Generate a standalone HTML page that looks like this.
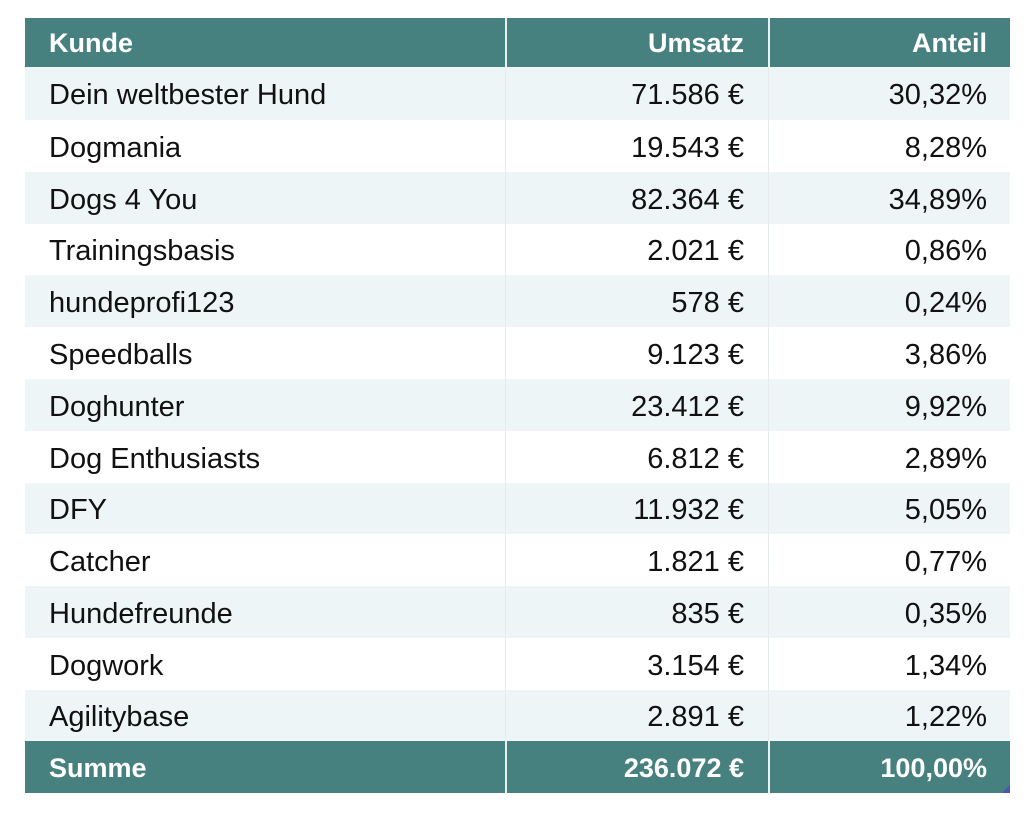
<!DOCTYPE html>
<html>
<head>
<meta charset="utf-8">
<style>
  html,body{margin:0;padding:0;background:#fff;}
  body{width:1030px;height:819px;position:relative;overflow:hidden;font-family:"Liberation Sans",Arial,sans-serif;}
  .row{position:absolute;left:25px;width:985px;}
  .c{position:absolute;top:0;height:100%;display:flex;align-items:center;box-sizing:border-box;white-space:nowrap;padding-top:4px;}
  .c1{left:0;width:480px;padding-left:24px;}
  .c2{left:482px;width:261px;justify-content:flex-end;padding-right:24px;}
  .c3{left:745px;width:240px;justify-content:flex-end;padding-right:23px;}
  .body .c{font-size:29px;color:#111;}
  .head{background:#47817f;}
  .head .c{font-size:27px;font-weight:bold;color:#fff;padding-top:2px;}
  .alt{background:#eef5f6;}
  .wht{background:#fff;}
  .vl{position:absolute;top:0;height:100%;width:1px;background:#e6eced;}
  .hv{position:absolute;top:0;height:100%;width:2px;background:#e9f2f1;}
</style>
</head>
<body>

<div class="row head" style="top:18px;height:49px;">
  <div class="hv" style="left:480px;"></div>
  <div class="hv" style="left:743px;"></div>
  <div class="c c1">Kunde</div>
  <div class="c c2">Umsatz</div>
  <div class="c c3">Anteil</div>
</div>

<div class="row body alt" style="top:67px;height:53px;"><div class="vl" style="left:480px"></div><div class="vl" style="left:743px"></div><div class="c c1">Dein weltbester Hund</div><div class="c c2">71.586 €</div><div class="c c3">30,32%</div></div>
<div class="row body wht" style="top:120px;height:52px;"><div class="vl" style="left:480px"></div><div class="vl" style="left:743px"></div><div class="c c1">Dogmania</div><div class="c c2">19.543 €</div><div class="c c3">8,28%</div></div>
<div class="row body alt" style="top:172px;height:52px;"><div class="vl" style="left:480px"></div><div class="vl" style="left:743px"></div><div class="c c1">Dogs 4 You</div><div class="c c2">82.364 €</div><div class="c c3">34,89%</div></div>
<div class="row body wht" style="top:224px;height:51px;"><div class="vl" style="left:480px"></div><div class="vl" style="left:743px"></div><div class="c c1">Trainingsbasis</div><div class="c c2">2.021 €</div><div class="c c3">0,86%</div></div>
<div class="row body alt" style="top:275px;height:52px;"><div class="vl" style="left:480px"></div><div class="vl" style="left:743px"></div><div class="c c1">hundeprofi123</div><div class="c c2">578 €</div><div class="c c3">0,24%</div></div>
<div class="row body wht" style="top:327px;height:52px;"><div class="vl" style="left:480px"></div><div class="vl" style="left:743px"></div><div class="c c1">Speedballs</div><div class="c c2">9.123 €</div><div class="c c3">3,86%</div></div>
<div class="row body alt" style="top:379px;height:52px;"><div class="vl" style="left:480px"></div><div class="vl" style="left:743px"></div><div class="c c1">Doghunter</div><div class="c c2">23.412 €</div><div class="c c3">9,92%</div></div>
<div class="row body wht" style="top:431px;height:52px;"><div class="vl" style="left:480px"></div><div class="vl" style="left:743px"></div><div class="c c1">Dog Enthusiasts</div><div class="c c2">6.812 €</div><div class="c c3">2,89%</div></div>
<div class="row body alt" style="top:483px;height:51px;"><div class="vl" style="left:480px"></div><div class="vl" style="left:743px"></div><div class="c c1">DFY</div><div class="c c2">11.932 €</div><div class="c c3">5,05%</div></div>
<div class="row body wht" style="top:534px;height:52px;"><div class="vl" style="left:480px"></div><div class="vl" style="left:743px"></div><div class="c c1">Catcher</div><div class="c c2">1.821 €</div><div class="c c3">0,77%</div></div>
<div class="row body alt" style="top:586px;height:52px;"><div class="vl" style="left:480px"></div><div class="vl" style="left:743px"></div><div class="c c1">Hundefreunde</div><div class="c c2">835 €</div><div class="c c3">0,35%</div></div>
<div class="row body wht" style="top:638px;height:52px;"><div class="vl" style="left:480px"></div><div class="vl" style="left:743px"></div><div class="c c1">Dogwork</div><div class="c c2">3.154 €</div><div class="c c3">1,34%</div></div>
<div class="row body alt" style="top:690px;height:51px;"><div class="vl" style="left:480px"></div><div class="vl" style="left:743px"></div><div class="c c1">Agilitybase</div><div class="c c2">2.891 €</div><div class="c c3">1,22%</div></div>

<div class="row head" style="top:741px;height:52px;">
  <div class="hv" style="left:480px;"></div>
  <div class="hv" style="left:743px;"></div>
  <div class="c c1">Summe</div>
  <div class="c c2">236.072 €</div>
  <div class="c c3">100,00%</div>
</div>

<svg style="position:absolute;left:1002px;top:785px;" width="8" height="8"><polygon points="8,0 8,8 0,8" fill="#4a55b8"/></svg>

</body>
</html>
